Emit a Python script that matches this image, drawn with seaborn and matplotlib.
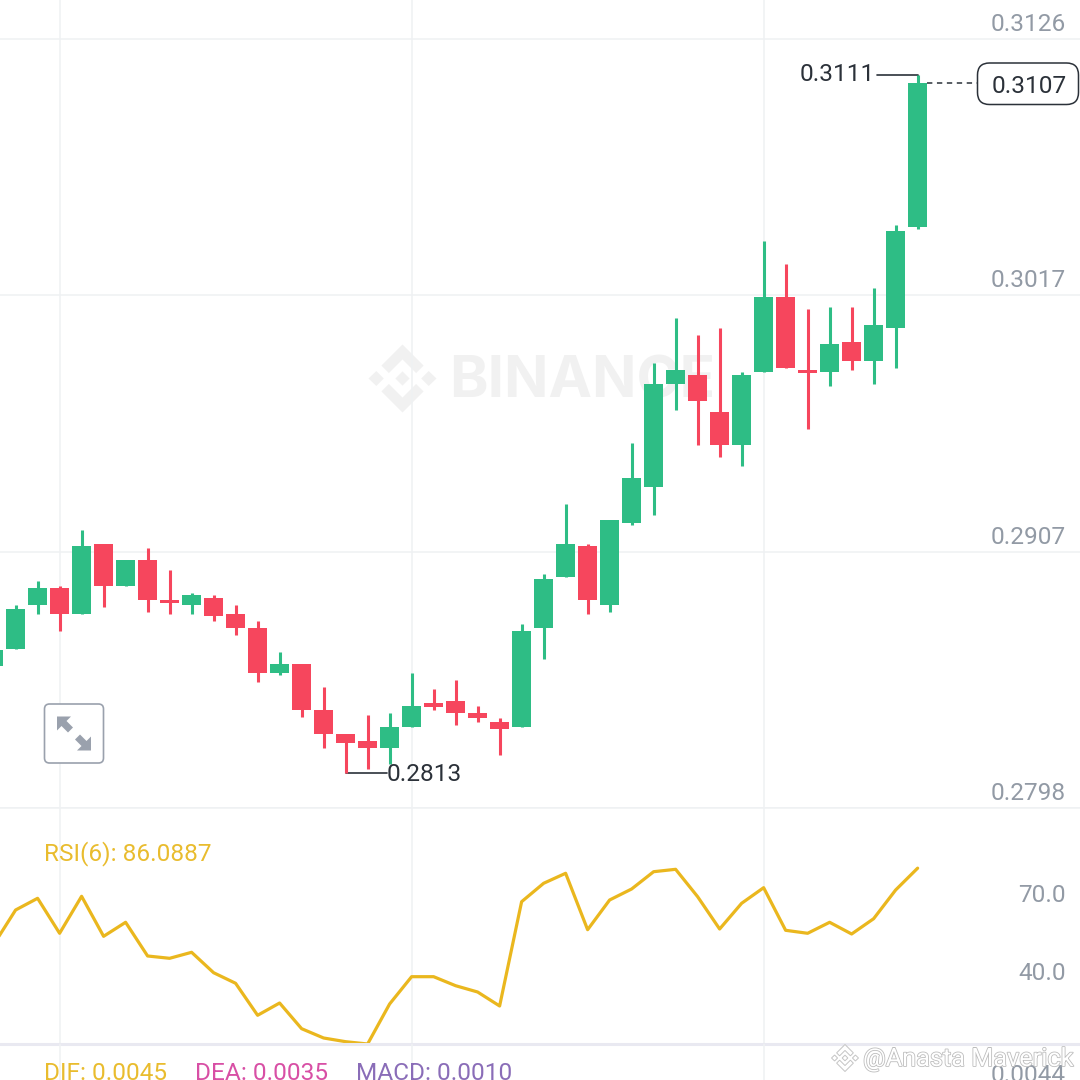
import matplotlib
matplotlib.use("Agg")
import matplotlib.pyplot as plt
import matplotlib.patheffects as pe
from matplotlib.patches import FancyBboxPatch, Polygon
import pandas as pd
import seaborn as sns

# candle slots, the gridlines sit on slot 0, 16 and 32
slots = list(range(-3, 40))
opens = [
    0.28587, 0.28658, 0.28847, 0.28917, 0.28807, 0.29107, 0.28927, 0.29038, 0.28867,
    0.28847, 0.28877, 0.28807, 0.28746, 0.28557, 0.28595, 0.28397, 0.28296, 0.28266,
    0.28236, 0.28325, 0.28428, 0.28436, 0.28386, 0.28345, 0.28325, 0.28748, 0.28967,
    0.29096, 0.28846, 0.29197, 0.29348, 0.29788, 0.29828, 0.29668, 0.29528, 0.29838,
    0.30158, 0.29848, 0.29838, 0.29968, 0.29888, 0.30029, 0.30459,
]
highs = [
    0.28654, 0.28846, 0.28948, 0.28927, 0.29166, 0.29107, 0.29038, 0.29088, 0.28996,
    0.28897, 0.28887, 0.28846, 0.28778, 0.28645, 0.28595, 0.28496, 0.28296, 0.28375,
    0.28385, 0.28556, 0.28486, 0.28526, 0.28415, 0.28365, 0.28766, 0.28977, 0.29277,
    0.29106, 0.29207, 0.29537, 0.29878, 0.30069, 0.29997, 0.30027, 0.29838, 0.30398,
    0.30299, 0.30108, 0.30118, 0.30118, 0.30198, 0.30468, 0.31106,
]
lows = [
    0.28587, 0.28658, 0.28807, 0.28736, 0.28807, 0.28836, 0.28927, 0.28816, 0.28807,
    0.28807, 0.28778, 0.28718, 0.28516, 0.28547, 0.28367, 0.28237, 0.28128, 0.28146,
    0.28166, 0.28325, 0.28397, 0.28335, 0.28345, 0.28206, 0.28325, 0.28615, 0.28967,
    0.28807, 0.28817, 0.29188, 0.29228, 0.29678, 0.29528, 0.29478, 0.29439, 0.29838,
    0.29858, 0.29598, 0.29779, 0.29848, 0.29788, 0.29858, 0.30450,
]
closes = [
    0.28654, 0.28827, 0.28917, 0.28807, 0.29097, 0.28927, 0.29038, 0.28867, 0.28856,
    0.28887, 0.28798, 0.28748, 0.28557, 0.28595, 0.28397, 0.28297, 0.28256, 0.28236,
    0.28325, 0.28415, 0.28412, 0.28386, 0.28365, 0.28316, 0.28736, 0.28957, 0.29106,
    0.28867, 0.29207, 0.29387, 0.29788, 0.29848, 0.29717, 0.29528, 0.29828, 0.30158,
    0.29858, 0.29837, 0.29958, 0.29888, 0.30039, 0.30440, 0.31071,
]
rsi = [
    56.65, 70.00, 74.50, 61.04, 75.27, 59.88, 65.27, 52.31, 51.42, 53.73, 45.88,
    41.81, 29.50, 34.23, 24.35, 20.77, 19.35, 18.46, 33.85, 44.35, 44.35, 40.88,
    38.46, 33.08, 73.19, 80.27, 84.12, 62.42, 73.85, 78.08, 84.73, 85.65, 75.12,
    62.69, 72.58, 78.58, 62.19, 61.04, 65.27, 60.77, 66.65, 77.69, 86.09,
]
price_ticks = [0.3126, 0.3017, 0.2907, 0.2798]
rsi_ticks = [70.0, 40.0]
grid_slots = [0, 16, 32]
high_label = "0.3111"
low_label = "0.2813"
last_label = "0.3107"
high_slot = 39
low_slot = 13
rsi_label = "RSI(6): 86.0887"
macd_labels = ["DIF: 0.0045", "DEA: 0.0035", "MACD: 0.0010"]
macd_tick = "0.0044"

GREEN = "#2EBD85"
RED = "#F6465D"
GOLD = "#EAB71E"
GRAY = "#929AA5"
DARK = "#2B3139"
GRID = "#EFF1F3"
FS = 17.6

sns.set_theme(style="white")
plt.rcParams["font.family"] = ["Roboto", "DejaVu Sans"]

df = pd.DataFrame({"slot": slots, "open": opens, "high": highs, "low": lows, "close": closes, "rsi": rsi})
df["color"] = [GREEN if c >= o else RED for o, c in zip(opens, closes)]

fig = plt.figure(figsize=(10.8, 10.8), dpi=100, facecolor="white")


def panel(top, bottom, zorder=1):
    return fig.add_axes([0, 1 - bottom / 1080, 1, (bottom - top) / 1080], zorder=zorder, facecolor="none")


def logo(ax, cx, cy, r, **style):
    # binance mark, unit shapes scaled to half width r
    shapes = [
        [(0, -0.21), (0.21, 0), (0, 0.21), (-0.21, 0)],
        [(-0.77, -0.22), (-0.55, 0), (-0.77, 0.22), (-1, 0)],
        [(0.77, -0.22), (1, 0), (0.77, 0.22), (0.55, 0)],
        [(0, -1), (0.62, -0.38), (0.4, -0.16), (0, -0.56), (-0.4, -0.16), (-0.62, -0.38)],
        [(0, 1), (0.62, 0.38), (0.4, 0.16), (0, 0.56), (-0.4, 0.16), (-0.62, 0.38)],
    ]
    for shape in shapes:
        ax.add_patch(Polygon([(cx + x * r, cy + y * r) for x, y in shape], closed=True, **style))


# watermark sits behind everything
bg_ax = fig.add_axes([0, 0, 1, 1], zorder=0)
bg_ax.set_xlim(0, 1080)
bg_ax.set_ylim(1080, 0)
bg_ax.axis("off")
logo(bg_ax, 402.5, 378.5, 34, facecolor="#F1F1F1", edgecolor="none")
bg_ax.text(449, 398, "BINANCE", fontsize=42, fontweight="bold", family=["Inter", "DejaVu Sans"],
           color="#F1F1F1", ha="left", va="baseline")

xlim = (-2.709, 46.38)
ax = panel(0, 808)
ax_rsi = panel(808, 1044)
ax_macd = panel(1044, 1080)

# price panel
ax.vlines(df["slot"], df["low"], df["high"], colors=df["color"], linewidth=2.2, zorder=3)
ax.bar(df["slot"], (df["close"] - df["open"]).abs(), bottom=df[["open", "close"]].min(axis=1),
       width=0.88, color=df["color"], linewidth=0, zorder=4)
ax.set_xlim(*xlim)
ax.set_ylim(0.2798, 0.314263)
ax.set_yticks(price_ticks)
for tick in price_ticks:
    ax.annotate(f"{tick:.4f}", xy=(1, tick), xycoords=ax.get_yaxis_transform(), xytext=(-14, 8),
                textcoords="offset pixels", ha="right", va="baseline", fontsize=FS, color=GRAY)

# high / low / last price callouts
high_row = df[df["slot"] == high_slot].iloc[0]
low_row = df[df["slot"] == low_slot].iloc[0]
ax.plot([high_slot - 1.83, high_slot, high_slot], [high_row["high"]] * 2 + [high_row["close"]],
        color=DARK, linewidth=1.2, zorder=2)
ax.annotate(high_label, xy=(high_slot - 1.83, high_row["high"]), xytext=(-2, -6), textcoords="offset pixels",
            ha="right", va="baseline", fontsize=FS, color=DARK)
ax.plot([low_slot, low_slot, low_slot + 1.88], [low_row["close"], low_row["low"], low_row["low"]],
        color=DARK, linewidth=1.2, zorder=2)
ax.annotate(low_label, xy=(low_slot + 1.88, low_row["low"]), xytext=(0, -8), textcoords="offset pixels",
            ha="left", va="baseline", fontsize=FS, color=DARK)
ax.hlines(high_row["close"], high_slot + 0.44, 41.95, colors=DARK, linewidth=1.1, linestyles=(0, (3.5, 3)), zorder=2)

# rsi panel
sns.lineplot(data=df, x="slot", y="rsi", ax=ax_rsi, color=GOLD, linewidth=2.3, estimator=None, sort=False)
ax_rsi.set_xlim(*xlim)
ax_rsi.set_ylim(18.46, 109.23)
ax_rsi.set_yticks([])
for tick in rsi_ticks:
    ax_rsi.annotate(f"{tick:.1f}", xy=(1, tick), xycoords=ax_rsi.get_yaxis_transform(), xytext=(-14, 8),
                    textcoords="offset pixels", ha="right", va="baseline", fontsize=FS, color=GRAY)

ax_macd.set_xlim(*xlim)
ax_macd.set_ylim(0, 1)
ax_macd.set_yticks([])

for a in (ax, ax_rsi, ax_macd):
    a.set_xticks(grid_slots)
    a.grid(True, color=GRID, linewidth=1.1)
    a.set_axisbelow(True)
    a.tick_params(length=0, labelbottom=False, labelleft=False)
    a.set_xlabel("")
    a.set_ylabel("")
    for spine in a.spines.values():
        spine.set_visible(False)
ax_rsi.spines["bottom"].set_visible(True)
ax_rsi.spines["bottom"].set_color("#E9E9F1")
ax_rsi.spines["bottom"].set_linewidth(2.2)
ax.spines["bottom"].set_visible(True)
ax.spines["bottom"].set_color(GRID)
ax.spines["bottom"].set_linewidth(1.1)

# overlay in pixel coordinates for the app chrome
ui = fig.add_axes([0, 0, 1, 1], zorder=3, facecolor="none")
ui.set_xlim(0, 1080)
ui.set_ylim(1080, 0)
ui.axis("off")

ui.add_patch(FancyBboxPatch((44.5, 704), 59, 59, boxstyle="round,pad=0,rounding_size=5",
                            facecolor="white", edgecolor="#9AA1AD", linewidth=1.2))
arrow = [(-17, -17), (-3, -17), (-7.5, -12.5), (-1, -6), (-6, -1), (-12.5, -7.5), (-17, -3)]
ui.add_patch(Polygon([(74 + x, 733.5 + y) for x, y in arrow], closed=True, facecolor="#9AA1AD", edgecolor="none"))
ui.add_patch(Polygon([(74 - x, 733.5 - y) for x, y in arrow], closed=True, facecolor="#9AA1AD", edgecolor="none"))

# last price pill
ui.add_patch(FancyBboxPatch((977.5, 63), 101, 41.5, boxstyle="round,pad=0,rounding_size=12",
                            facecolor="white", edgecolor=DARK, linewidth=1.1))
ui.text(1029, 93, last_label, fontsize=FS, color=DARK, ha="center", va="baseline")

ui.text(44, 860, rsi_label, fontsize=FS, color="#E9BC2E", ha="left", va="baseline")
macd_x = [44, 195, 356]
macd_colors = ["#E9BC2E", "#D84FA5", "#8A6DB8"]
for x, label, color in zip(macd_x, macd_labels, macd_colors):
    ui.text(x, 1080, label, fontsize=FS, color=color, ha="left", va="baseline", clip_on=False)
ui.text(1066, 1082, macd_tick, fontsize=FS, color=GRAY, ha="right", va="baseline")

# image-host stamp in the corner
logo(ui, 845, 1058, 13.5, facecolor="white", edgecolor="#C4C4C4", linewidth=0.7)
ui.text(863, 1066, "@Anasta Maverick", fontsize=18.2, color="white", ha="left", va="baseline",
        path_effects=[pe.withStroke(linewidth=1.2, foreground="#BDBDBD")])

fig.savefig("out.png", dpi=100)
